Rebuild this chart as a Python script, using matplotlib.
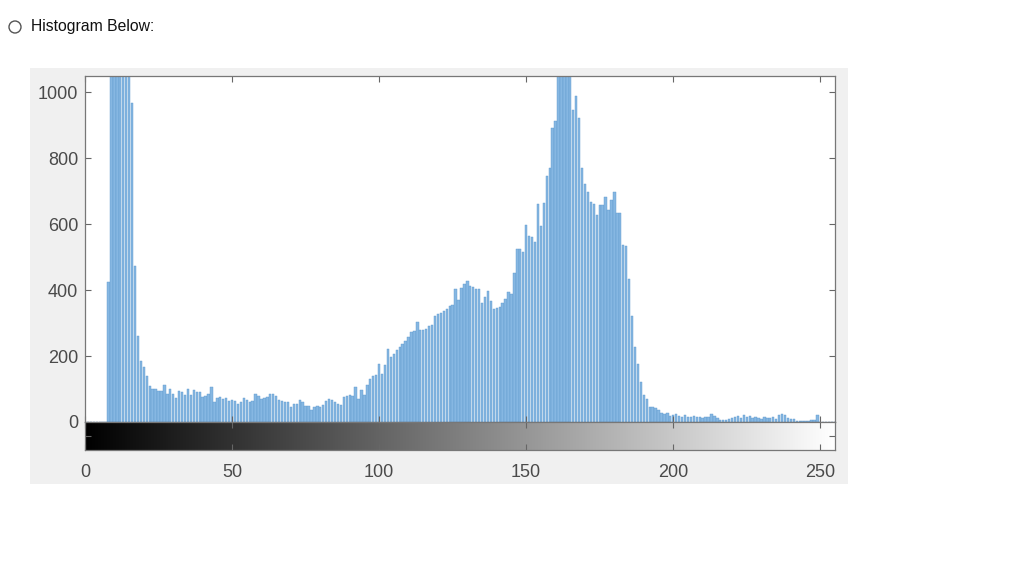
import numpy as np
import matplotlib
matplotlib.use('Agg')
import matplotlib.pyplot as plt
from matplotlib.patches import Rectangle, Ellipse

plt.rcParams['font.family'] = ['Liberation Sans', 'DejaVu Sans']

# gray levels 0..255 and pixel counts
levels = np.arange(256)
counts = np.zeros(256)
counts[8:40] = [426, 1600, 2300, 2600, 2400, 2000, 1500, 1200, 968, 472,
                260, 185, 168, 140, 108, 101, 101, 93, 94, 111,
                85, 101, 85, 72, 93, 90, 81, 100, 82, 96,
                92, 90]
counts[40:85] = [76, 80, 86, 106, 62, 72, 76, 70, 72, 65,
                 67, 64, 56, 60, 72, 68, 60, 65, 84, 78,
                 70, 72, 76, 86, 85, 78, 68, 64, 62, 60,
                 47, 56, 55, 66, 62, 50, 48, 37, 46, 50,
                 47, 52, 64, 70, 66]
counts[85:126] = [60, 55, 51, 75, 78, 81, 80, 106, 70, 97,
                  81, 111, 131, 141, 143, 176, 146, 172, 222, 197,
                  205, 218, 228, 237, 245, 257, 272, 275, 302, 278,
                  280, 282, 290, 293, 323, 328, 332, 338, 342, 353,
                  355]
counts[126:170] = [403, 370, 408, 420, 428, 413, 410, 405, 403, 362,
                   380, 398, 368, 342, 345, 350, 362, 372, 394, 387,
                   453, 525, 525, 515, 597, 565, 560, 545, 661, 595,
                   666, 746, 771, 892, 912, 1150, 1300, 1400, 1250, 1100,
                   947, 988, 922, 772]
counts[170:203] = [722, 698, 668, 662, 627, 660, 660, 683, 642, 675,
                   698, 634, 634, 537, 534, 433, 322, 227, 176, 121,
                   81, 70, 45, 45, 42, 35, 28, 25, 28, 17,
                   20, 23, 18]
counts[203:251] = [15, 22, 16, 15, 18, 14, 15, 12, 16, 14,
                   25, 18, 12, 5, 5, 6, 8, 12, 14, 18,
                   13, 20, 15, 18, 12, 14, 12, 10, 14, 11,
                   12, 15, 10, 22, 25, 20, 12, 10, 8, 3,
                   2, 2, 3, 4, 6, 5, 22, 0]

xticks = [0, 50, 100, 150, 200, 250]
yticks = [0, 200, 400, 600, 800, 1000]

W, H = 1024, 568
fig = plt.figure(figsize=(W / 100, H / 100), dpi=100)
fig.patch.set_facecolor('white')


def fx(px):
    return px / W


def fy(py):
    return 1 - py / H


# gray panel behind the plot
fig.patches.append(Rectangle((fx(30), fy(484)), fx(848) - fx(30), fy(68) - fy(484),
                             transform=fig.transFigure, facecolor='#f0f0f0',
                             edgecolor='none', zorder=-10))

# radio button + caption
fig.patches.append(Ellipse((fx(15), fy(27)), 12 / W, 12 / H, transform=fig.transFigure,
                           facecolor='white', edgecolor='#555555', lw=1.0, zorder=-5))
fig.text(fx(31), fy(26), 'Histogram Below:', fontsize=11.3, color='#111111',
         va='center', ha='left')

left, right = 85, 835
ax = fig.add_axes([fx(left), fy(422), fx(right) - fx(left), fy(76) - fy(422)])
ax.bar(levels, counts, width=0.8, color='#86b7e2', edgecolor='#5e98cd', linewidth=0.3)
ax.set_xlim(0, 255)
ax.set_ylim(0, 1050)
ax.set_yticks(yticks)
ax.set_xticks(xticks)
ax.set_xticklabels([])
ax.tick_params(axis='both', direction='in', length=4, width=0.8, color='#666666',
               labelsize=13, labelcolor='#4a4a4a', top=True, right=True, pad=5)
for s in ax.spines.values():
    s.set_color('#777777')
    s.set_linewidth(0.9)

cax = fig.add_axes([fx(left), fy(450), fx(right) - fx(left), fy(422) - fy(450)])
grad = np.linspace(0, 1, 256).reshape(1, -1)
cax.imshow(grad, cmap='gray', aspect='auto', extent=[0, 255, 0, 1])
cax.set_xlim(0, 255)
cax.set_ylim(0, 1)
cax.set_xticks(xticks)
cax.set_yticks([0.5])
cax.set_yticklabels([])
cax.tick_params(axis='both', direction='in', length=4, width=0.8, color='#666666',
                labelsize=13, labelcolor='#4a4a4a', top=True, right=True, pad=10)
for s in cax.spines.values():
    s.set_color('#777777')
    s.set_linewidth(0.9)

fig.savefig('out.png', dpi=100)
